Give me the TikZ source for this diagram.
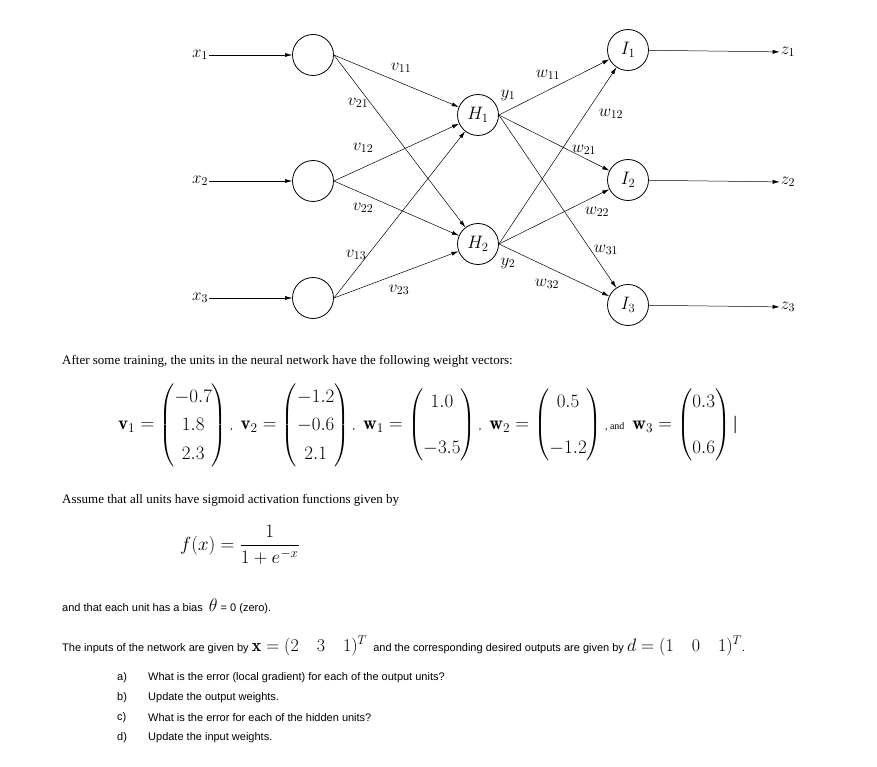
\RequirePackage{fix-cm}
\documentclass[tikz,border=0pt]{standalone}
\usepackage{amsmath}
\usepackage{fontspec}
\newfontfamily\tnr{Liberation Serif}
\newfontfamily\ari{Liberation Sans}
\usetikzlibrary{arrows.meta}
\begin{document}
\begin{tikzpicture}[x=1pt,y=-1pt,
  neuron/.style={circle,draw,thick,minimum size=41pt,inner sep=0pt,font=\fontsize{18}{18}\selectfont},
  conn/.style={-{Latex[length=7pt,width=4pt]},line width=0.5pt},
  lab/.style={font=\fontsize{17}{17}\selectfont,inner sep=1pt},
  txt/.style={anchor=west,font=\tnr\fontsize{13}{15}\selectfont,inner sep=0pt},
  stxt/.style={anchor=west,font=\ari\fontsize{11}{13}\selectfont,inner sep=0pt}]
\useasboundingbox (0,0) rectangle (877,767);
\fill[white] (0,0) rectangle (877,767);
\node[neuron] (n1) at (313,55) {};
\node[neuron] (n2) at (313,181) {};
\node[neuron] (n3) at (313,298) {};
\node[neuron] (h1) at (478,115) {$H_1$};
\node[neuron] (h2) at (478,244) {$H_2$};
\node[neuron] (o1) at (628,50) {$I_1$};
\node[neuron] (o2) at (628,180) {$I_2$};
\node[neuron] (o3) at (628,305) {$I_3$};
\node[lab] (x1) at (200,55) {$x_1$};
\node[lab] (x2) at (200,181) {$x_2$};
\node[lab] (x3) at (200,298) {$x_3$};
\node[lab] (z1) at (788,52) {$z_1$};
\node[lab] (z2) at (788,182) {$z_2$};
\node[lab] (z3) at (788,307) {$z_3$};
\foreach \i in {1,2,3}{\draw[conn] (x\i) -- (n\i); \draw[conn] (o\i) -- (z\i);}
\draw[conn] (n1.east) -- (h1); \draw[conn] (n1.east) -- (h2);
\draw[conn] (n2.east) -- (h1); \draw[conn] (n2.east) -- (h2);
\draw[conn] (n3.east) -- (h1); \draw[conn] (n3.east) -- (h2);
\foreach \o in {1,2,3}{\draw[conn] (h1.east) -- (o\o); \draw[conn] (h2.east) -- (o\o);}
\node[lab] at (401,68) {$v_{11}$};
\node[lab] at (358,103) {$v_{21}$};
\node[lab] at (363,148) {$v_{12}$};
\node[lab] at (363,208) {$v_{22}$};
\node[lab] at (356,255) {$v_{13}$};
\node[lab] at (399,290) {$v_{23}$};
\node[lab] at (508,95) {$y_1$};
\node[lab] at (508,263) {$y_2$};
\node[lab] at (548,75) {$w_{11}$};
\node[lab] at (611,114) {$w_{12}$};
\node[lab] at (584,150) {$w_{21}$};
\node[lab] at (597,212) {$w_{22}$};
\node[lab] at (606,250) {$w_{31}$};
\node[lab] at (547,284) {$w_{32}$};
\node[txt] (t1) at (62,361) {After some training, the units in the neural network have the following weight vectors:};
\node[anchor=west,inner sep=0pt,font=\tnr\fontsize{19}{19}\selectfont] (mat) at (118,425) {%
\renewcommand{\arraystretch}{1.5}%
$\mathbf{v}_1=\begin{pmatrix}-0.7\\1.8\\2.3\end{pmatrix}$\,{\fontsize{10}{10}\selectfont,}\,
$\mathbf{v}_2=\begin{pmatrix}-1.2\\-0.6\\2.1\end{pmatrix}$\,{\fontsize{10}{10}\selectfont,}\,
$\mathbf{w}_1=\left(\begin{matrix}1.0\\[18pt]-3.5\end{matrix}\right)$\,{\fontsize{10}{10}\selectfont,}\,
$\mathbf{w}_2=\left(\begin{matrix}0.5\\[18pt]-1.2\end{matrix}\right)$\,{\fontsize{10}{10}\selectfont, and}\,
$\mathbf{w}_3=\left(\begin{matrix}0.3\\[18pt]0.6\end{matrix}\right)$\,|};
\node[txt] (t2) at (62,500) {Assume that all units have sigmoid activation functions given by};
\node[anchor=west,inner sep=0pt,font=\tnr\fontsize{19}{19}\selectfont] (fx) at (180,545) {$f(x)=\dfrac{1}{1+e^{-x}}$};
\node[stxt] (t3) at (62,606) {and that each unit has a bias \ {\tnr\fontsize{18}{18}\selectfont$\theta$} = 0 (zero).};
\node[stxt] (t4) at (62,646) {The inputs of the network are given by {\tnr\fontsize{18}{18}\selectfont$\mathbf{x}=(2\quad 3\quad 1)^T$} \ and the corresponding desired outputs are given by {\tnr\fontsize{18}{18}\selectfont$d=(1\quad 0\quad 1)^T$}.};
\foreach \l/\t/\y in {a)/What is the error (local gradient) for each of the output units?/678, b)/Update the output weights./698, c)/What is the error for each of the hidden units?/718, d)/Update the input weights./738}{
  \node[stxt] at (117,\y) {\l};
  \node[stxt] at (148,\y) {\t};}
\end{tikzpicture}
\end{document}
